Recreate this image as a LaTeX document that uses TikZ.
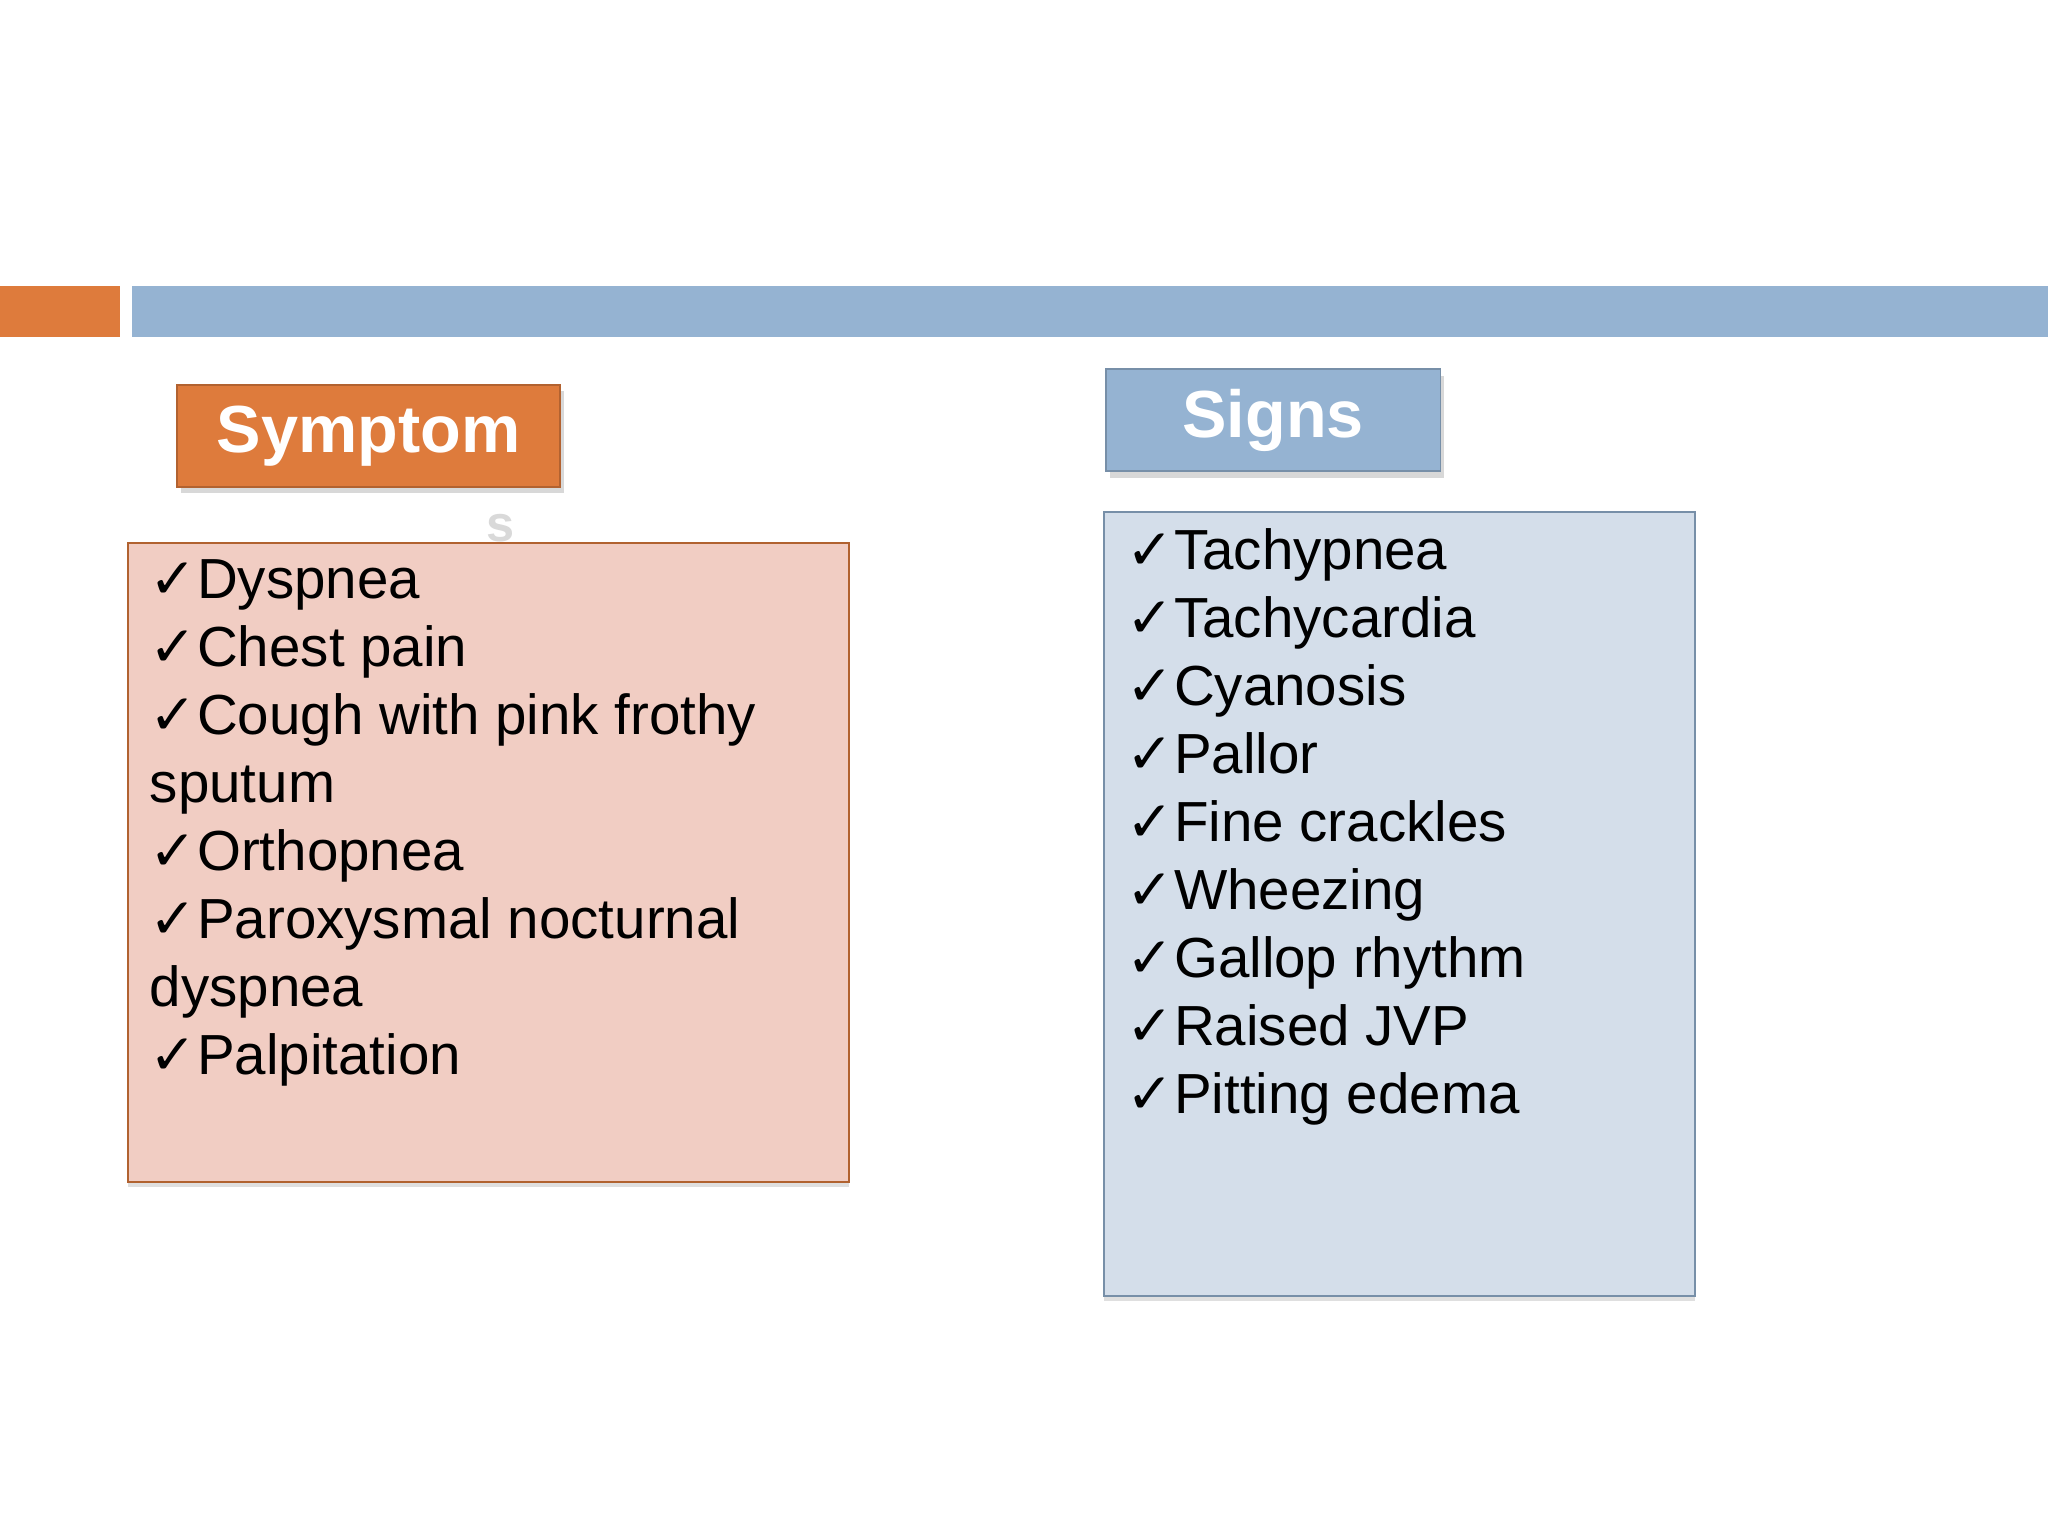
\documentclass[tikz,border=0pt]{standalone}
\usepackage{fontspec}
\setmainfont{Liberation Sans}
\newfontfamily\djv{DejaVu Sans}
\usetikzlibrary{shadows}
\definecolor{orng}{HTML}{DE7B3C}
\definecolor{blu}{HTML}{95B3D2}
\definecolor{pnk}{HTML}{F1CDC3}
\definecolor{lblu}{HTML}{D4DEEA}
\newcommand{\ck}{{\djv ✓}}
\tikzset{
 px/.style={x=0.01cm,y=-0.01cm},
 title/.style={font=\fontsize{14.5}{17}\selectfont\bfseries,text=white,drop shadow={shadow xshift=0.03cm,shadow yshift=-0.05cm,opacity=0.3}},
 list/.style={anchor=north west,align=left,inner sep=0pt,font=\fontsize{12.3}{14.8}\selectfont}
}
\begin{document}
\begin{tikzpicture}[px]
\useasboundingbox[fill=white] (0,0) rectangle (1568,1176);
\fill[orng] (0,219) rectangle (92,258);
\fill[blu] (101,219) rectangle (1568,258);
\draw[orng!80!black,fill=pnk,drop shadow={shadow xshift=0cm,shadow yshift=-0.04cm,opacity=0.25}] (98,416) rectangle (650,905);
\draw[blu!80!black,fill=lblu,drop shadow={shadow xshift=0cm,shadow yshift=-0.04cm,opacity=0.25}] (845,392) rectangle (1298,992);
\node[title,fill=orng,draw=orng!80!black,minimum width=2.93cm,minimum height=0.78cm,anchor=north west] (sym) at (135,294) {Symptom};
\node[text=gray!30,font=\fontsize{11}{13}\selectfont\bfseries] (s) at (383,404) {s};
\node[title,fill=blu,draw=blu!80!black,minimum width=2.56cm,minimum height=0.78cm,anchor=north west] (sig) at (846,282) {Signs};
\node[list] (l1) at (114,428) {\ck Dyspnea\\\ck Chest pain\\\ck Cough with pink frothy\\sputum\\\ck Orthopnea\\\ck Paroxysmal nocturnal\\dyspnea\\\ck Palpitation};
\node[list] (l2) at (862,404) {\ck Tachypnea\\\ck Tachycardia\\\ck Cyanosis\\\ck Pallor\\\ck Fine crackles\\\ck Wheezing\\\ck Gallop rhythm\\\ck Raised JVP\\\ck Pitting edema};
\end{tikzpicture}
\end{document}
